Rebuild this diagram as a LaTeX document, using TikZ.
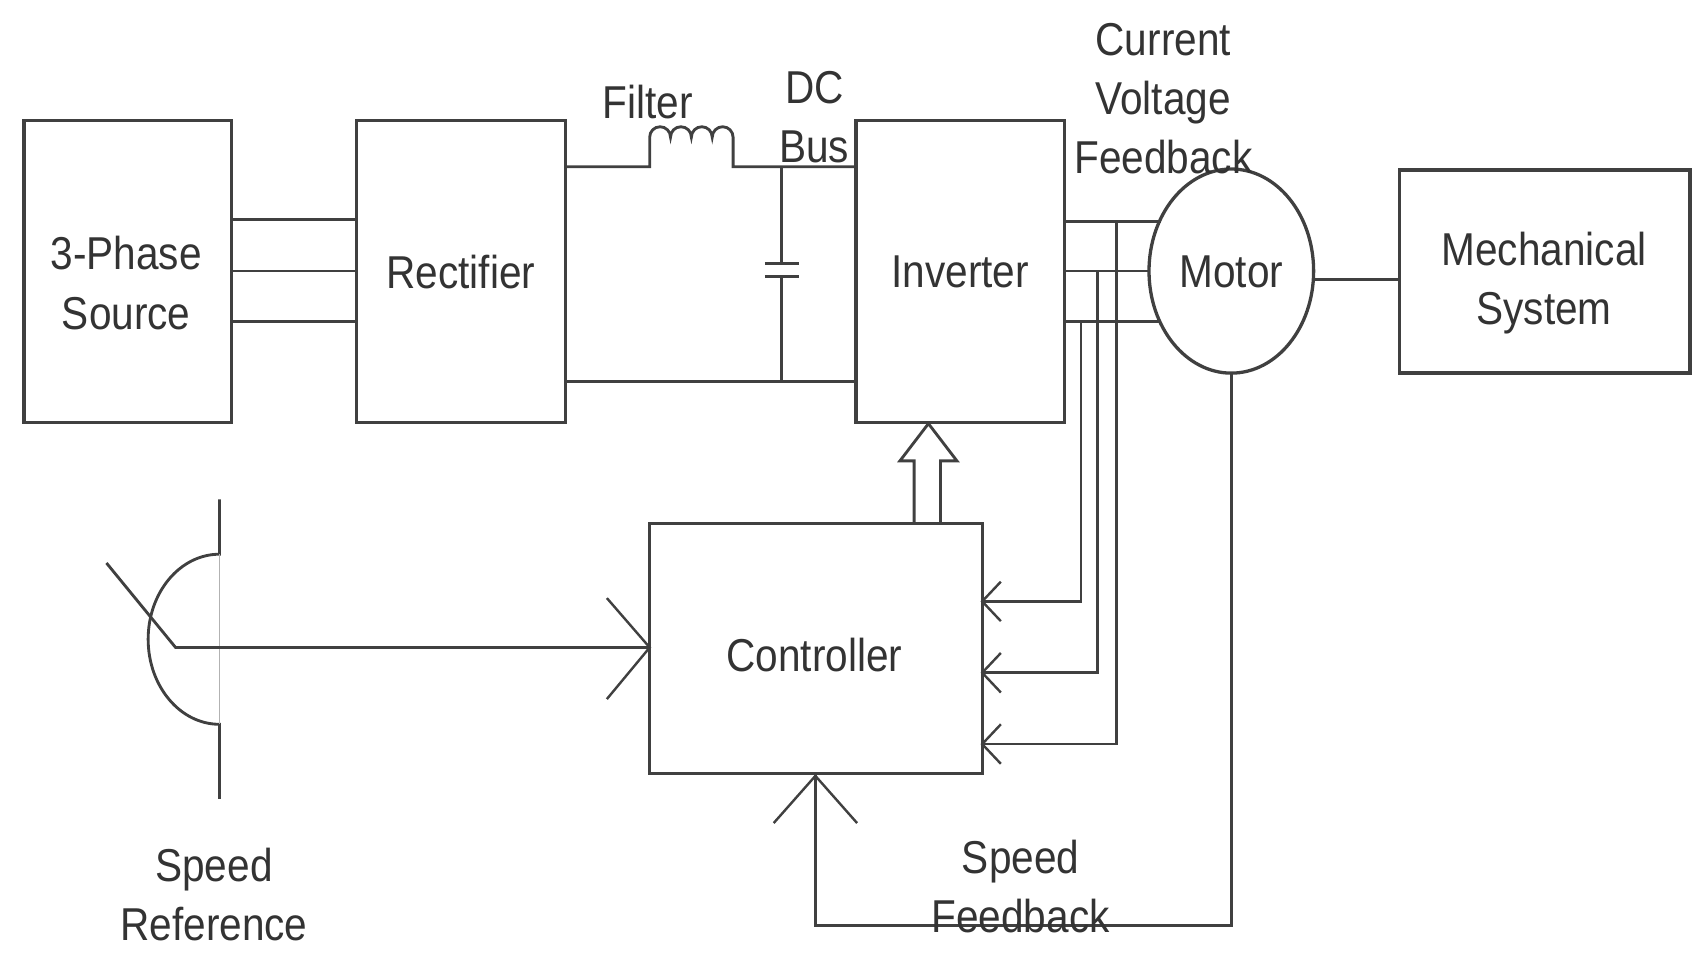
\documentclass[tikz,border=0pt]{standalone}
\usepackage{fontspec}
\setmainfont{Liberation Sans}[FakeStretch=0.88]
\begin{document}
\begin{tikzpicture}[x=0.5pt,y=-0.5pt,line width=1.3pt,draw=black!75,
  box/.style={draw=black!75,line width=1.5pt},
  lbl/.style={align=center,font=\fontsize{21}{27}\selectfont,text=black!80,inner sep=0pt},
  w/.style={draw=black!75,line width=1.3pt}]
\useasboundingbox (0,0) rectangle (1550,878);
% boxes
\draw[box] (22,110) rectangle (211,385); \node[lbl] (src) at (115,258) {3-Phase\\Source};
\draw[box] (325,110) rectangle (515,385); \node[lbl] (rec) at (420,248) {Rectifier};
\draw[box] (780,110) rectangle (970,385); \node[lbl] (inv) at (875,248) {Inverter};
\draw[box] (592,477) rectangle (895,705); \node[lbl] (ctl) at (742,597) {Controller};
\draw[box] (1275,155) rectangle (1540,340); \node[lbl] (mech) at (1407,258) {Mechanical\\System};
\draw[box] (1122,247) ellipse (75 and 93); \node[lbl] (mot) at (1122,248) {Motor};
% source to rectifier
\foreach \y in {200,247,293} \draw[w] (211,\y) -- (325,\y);
% filter & dc bus
\draw[w] (515,152) -- (592,152) -- (592,125)
  arc[start angle=180,end angle=0,x radius=9.5,y radius=-9.5]
  arc[start angle=180,end angle=0,x radius=9.5,y radius=-9.5]
  arc[start angle=180,end angle=0,x radius=9.5,y radius=-9.5]
  arc[start angle=180,end angle=0,x radius=9.5,y radius=-9.5]
  -- (668,152) -- (780,152);
\draw[w] (515,348) -- (780,348);
\draw[w] (712,152) -- (712,240) (697,240) -- (728,240) (697,252) -- (728,252) (712,252) -- (712,348);
\node[lbl] (filt) at (590,93) {Filter};
\node[lbl] (dc) at (742,107) {DC\\Bus};
% inverter to motor
\draw[w] (970,202) -- (1058,202);
\draw[w] (970,247) -- (1047,247);
\draw[w] (970,293) -- (1056,293);
\node[lbl] (cvf) at (1060,90) {Current\\Voltage\\Feedback};
% feedback to controller
\draw[w] (985,293) -- (985,548) -- (895,548);
\draw[w] (1000,247) -- (1000,613) -- (895,613);
\draw[w] (1017,202) -- (1017,678) -- (895,678);
\foreach \y in {548,613,678} \draw[w,line width=1.1pt] (912,\y-18) -- (895,\y) -- (912,\y+18);
% controller to inverter hollow arrow
\draw[w] (833,477) -- (833,420) -- (820,420) -- (846,386) -- (872,420) -- (857,420) -- (857,477);
% motor to mechanical
\draw[w] (1197,255) -- (1275,255);
% speed feedback
\draw[w] (1122,340) -- (1122,843) -- (743,843) -- (743,705);
\draw[w,line width=1.1pt] (705,750) -- (743,707) -- (781,750);
\node[lbl] (sf) at (930,808) {Speed\\Feedback};
% speed reference
\draw[w] (200,455) -- (200,505) arc[start angle=90,end angle=270,x radius=65,y radius=-77.5] -- (200,728);
\draw[black!30,line width=0.6pt] (200,505) -- (200,660);
\draw[w] (97,513) -- (160,590) -- (592,590);
\draw[w,line width=1.1pt] (553,545) -- (592,590) -- (553,637);
\node[lbl] (sr) at (195,815) {Speed\\Reference};
\end{tikzpicture}
\end{document}
